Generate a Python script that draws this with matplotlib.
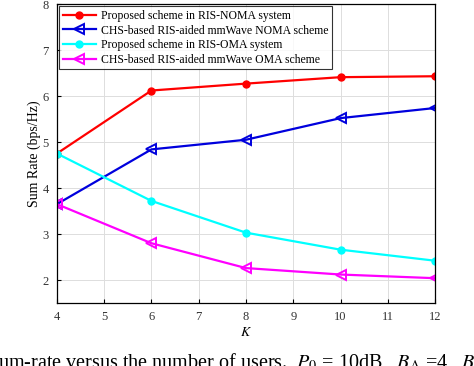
import matplotlib
matplotlib.use("Agg")
import matplotlib.pyplot as plt

K = [4, 6, 8, 10, 12]
noma_prop = [4.75, 6.12, 6.27, 6.41, 6.43]
noma_chs = [3.65, 4.84, 5.05, 5.52, 5.74]
oma_prop = [4.75, 3.72, 3.03, 2.66, 2.42]
oma_chs = [3.65, 2.80, 2.26, 2.12, 2.04]
labels = ["Proposed scheme in RIS-NOMA system",
          "CHS-based RIS-aided mmWave NOMA scheme",
          "Proposed scheme in RIS-OMA system",
          "CHS-based RIS-aided mmWave OMA scheme"]

plt.rcParams['font.family'] = ['Liberation Serif', 'DejaVu Serif']
plt.rcParams['mathtext.fontset'] = 'stix'

fig= plt.figure(figsize=(4.74, 3.66), dpi=100)
ax= fig.add_axes([0.120, 0.172, 0.798, 0.817])

ax.plot(K, noma_prop, color='red', marker='o', ms=5, lw=1.6, label=labels[0])
ax.plot(K, noma_chs, color='#0000dd', marker='<', ms=7, mfc='none', mew=1.4, lw=1.6, label=labels[1])
ax.plot(K, oma_prop, color='cyan', marker='o', ms=5, lw=1.6, label=labels[2])
ax.plot(K, oma_chs, color='magenta', marker='<', ms=7, mfc='none', mew=1.4, lw=1.6, label=labels[3])

ax.set_xlim(4, 12)
ax.set_ylim(1.5, 8)
ax.set_xticks(range(4, 13))
ax.set_yticks(range(2, 9))
ax.grid(True, color='#dddddd', lw=0.7)
ax.tick_params(labelsize=9, direction='in', length=3, pad=6, labelcolor='#333333')
ax.set_xlabel("$K$", fontsize=10, labelpad=2)
ax.set_ylabel("Sum Rate (bps/Hz)", fontsize=10, labelpad=1)
for s in ax.spines.values():
    s.set_linewidth(0.9)

leg= ax.legend(loc='upper left', fontsize=8.5, handlelength=2.8, borderaxespad=0.2,
               fancybox=False, edgecolor='black', labelspacing=0.22, borderpad=0.3,
               handletextpad=0.4)
leg.get_frame().set_linewidth(0.8)

fig.text(-0.028, -0.004, "Sum-rate versus the number of users.  $P_0$ = 10dB,  $B_{\\rm A}$ =4,  $B_{\\rm B}$ =6",
         fontsize=14.5, ha='left', va='baseline')

fig.savefig("out.png", dpi=100)
